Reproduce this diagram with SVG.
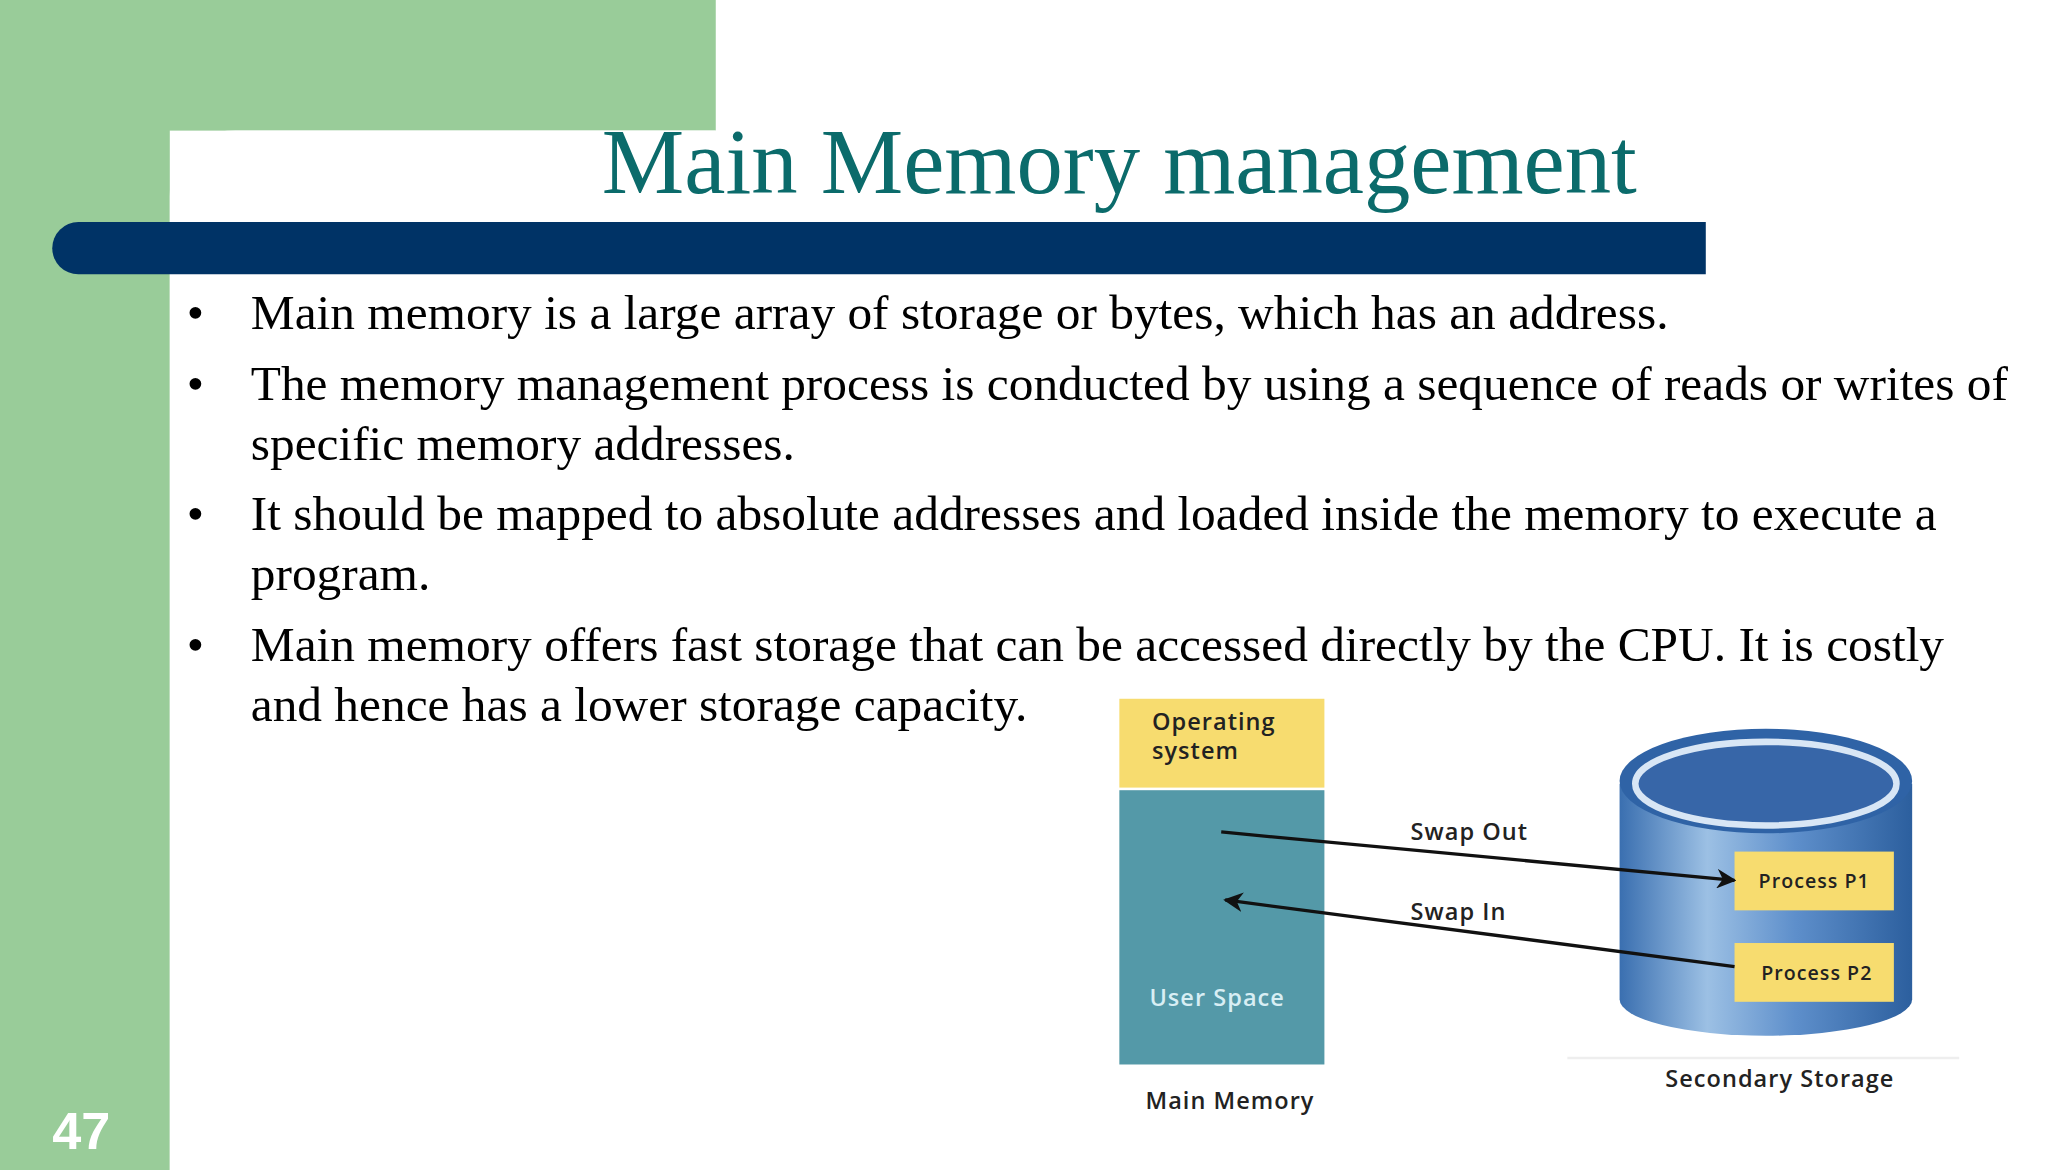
<svg xmlns="http://www.w3.org/2000/svg" width="2048" height="1170" viewBox="0 0 2048 1170">
<defs>
<style>
.b{font-family:"Liberation Serif",serif;font-size:37.8px;fill:#000}
.d{font-family:"Open Sans","Liberation Sans",sans-serif;font-weight:600;fill:#222;letter-spacing:0.8px}
</style>
<linearGradient id="cyl" x1="0" x2="1" y1="0" y2="0">
<stop offset="0" stop-color="#3a6fb0"/><stop offset="0.3" stop-color="#9cc0e4"/><stop offset="0.6" stop-color="#5e8fcb"/><stop offset="1" stop-color="#2c5f9e"/>
</linearGradient>
<marker id="ah" viewBox="0 0 10 10" refX="9" refY="5" markerWidth="6" markerHeight="6" orient="auto-start-reverse"><path d="M0,0 L10,5 L0,10 L3,5 z" fill="#111"/></marker>
</defs>
<g transform="scale(1.30612)">
<rect width="1568" height="896" fill="#fff"/>
<rect x="0" y="0" width="548" height="100" fill="#99cc99"/>
<rect x="0" y="0" width="130" height="896" fill="#99cc99"/>
<path d="M130,150 Q130,100 180,100 H548 V896 H130 Z" fill="#fff"/>
<text x="857" y="148" text-anchor="middle" font-family="Liberation Serif,serif" font-size="71" fill="#0b6b6b">Main Memory management</text>
<path d="M60,170 H1306 V210 H60 A20,20 0 0 1 60,170 Z" fill="#003366"/>
<text x="40" y="880" font-family="Liberation Sans,sans-serif" font-weight="bold" font-size="40" fill="#fff">47</text>
<g class="b">
<text x="143" y="252">•</text><text x="192" y="252">Main memory is a large array of storage or bytes, which has an address.</text>
<text x="143" y="306">•</text><text x="192" y="306">The memory management process is conducted by using a sequence of reads or writes of</text>
<text x="192" y="352">specific memory addresses.</text>
<text x="143" y="406">•</text><text x="192" y="406">It should be mapped to absolute addresses and loaded inside the memory to execute a</text>
<text x="192" y="452">program.</text>
<text x="143" y="506">•</text><text x="192" y="506">Main memory offers fast storage that can be accessed directly by the CPU. It is costly</text>
<text x="192" y="552">and hence has a lower storage capacity.</text>
</g>
<g id="main-memory">
<rect x="857" y="535" width="157" height="68" fill="#f7dc6f"/>
<rect x="857" y="605" width="157" height="210" fill="#5499a8"/>
<text class="d" x="882" y="559" font-size="18">Operating</text>
<text class="d" x="882" y="581" font-size="18">system</text>
<text class="d" x="880" y="770" font-size="18" style="fill:#d8eef4">User Space</text>
<text class="d" x="877" y="849" font-size="18">Main Memory</text>
</g>
<g id="secondary-storage">
<path d="M1240,600 V765 A112,28 0 0 0 1464,765 V600 Z" fill="url(#cyl)"/>
<ellipse cx="1352" cy="598" rx="112" ry="40" fill="#2f63a6"/>
<ellipse cx="1352" cy="600" rx="100" ry="32" fill="#3766a8" stroke="#d8e6f5" stroke-width="5"/>
<line x1="1200" y1="810" x2="1500" y2="810" stroke="#eee" stroke-width="2"/>
<text class="d" x="1275" y="832" font-size="18">Secondary Storage</text>
</g>
<g id="p1"><rect x="1328" y="652" width="122" height="45" fill="#f7dc6f"/><text class="d" x="1389" y="680" text-anchor="middle" font-size="15">Process P1</text></g>
<g id="p2"><rect x="1328" y="722" width="122" height="45" fill="#f7dc6f"/><text class="d" x="1391" y="750" text-anchor="middle" font-size="15">Process P2</text></g>
<g id="connectors" stroke="#111" stroke-width="2.5" fill="none">
<line x1="935" y1="637" x2="1328" y2="674" marker-end="url(#ah)"/>
<line x1="1328" y1="740" x2="938" y2="689" marker-end="url(#ah)"/>
</g>
<text class="d" x="1080" y="643" font-size="18">Swap Out</text>
<text class="d" x="1080" y="704" font-size="18">Swap In</text>
</g>
</svg>
